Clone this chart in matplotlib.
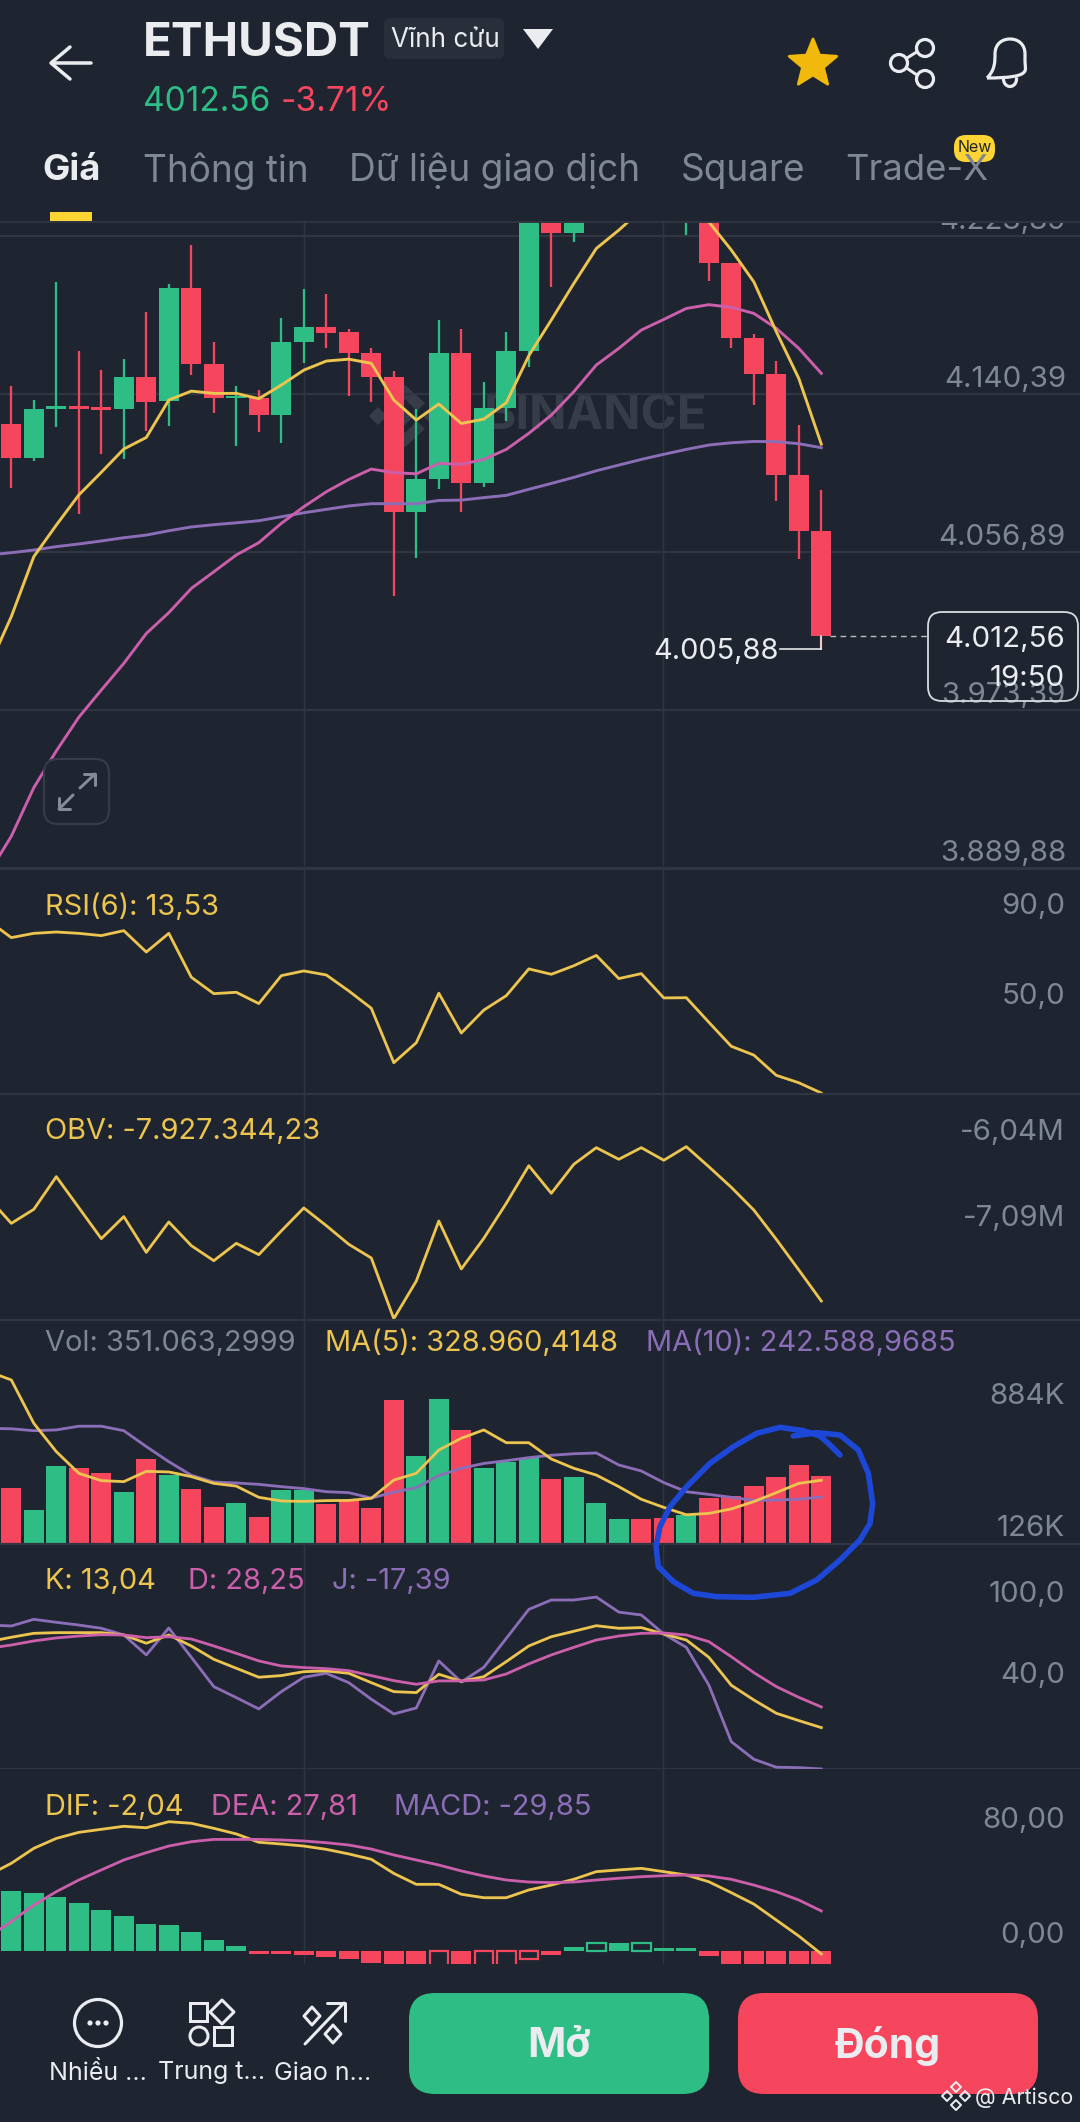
import numpy as np
import matplotlib
matplotlib.use("Agg")
import matplotlib.pyplot as plt
from matplotlib.patches import FancyBboxPatch, Polygon, Circle, PathPatch, Rectangle
from matplotlib.path import Path

# ---------- candles (index 0..36) ----------
candle_open = [4124.7, 4106.7, 4132.8, 4134.2, 4133.5, 4132.6, 4149.5, 4136.7, 4196.6, 4156.6,
               4138.3, 4138.3, 4129.6, 4168.2, 4176.0, 4173.1, 4162.0, 4149.4, 4078.0, 4095.6,
               4162.2, 4093.3, 4133.1, 4163.1, 4240.0, 4225.8, 4238.0, 4262.0, 4275.0, 4268.0,
               4240.0, 4245.0, 4209.6, 4170.0, 4150.9, 4097.6, 4068.1]
candle_close = [4106.7, 4132.6, 4134.2, 4132.8, 4132.1, 4149.5, 4136.5, 4196.6, 4156.6, 4138.3,
                4139.7, 4129.6, 4168.2, 4176.0, 4173.0, 4162.0, 4149.4, 4078.0, 4095.4, 4162.2,
                4093.5, 4133.0, 4163.1, 4240.0, 4225.8, 4238.0, 4262.0, 4275.0, 4268.0, 4245.0,
                4252.0, 4209.6, 4170.0, 4150.9, 4097.6, 4068.1, 4012.56]
candle_high = [4144.8, 4137.4, 4199.8, 4163.5, 4153.2, 4159.0, 4183.7, 4198.5, 4219.1, 4168.0,
               4144.8, 4142.7, 4180.9, 4196.2, 4193.4, 4174.9, 4164.9, 4152.5, 4132.4, 4179.7,
               4174.7, 4147.1, 4173.3, 4245.0, 4246.0, 4242.0, 4268.0, 4280.0, 4282.0, 4272.0,
               4258.0, 4250.0, 4210.0, 4172.3, 4158.0, 4124.2, 4089.8]
candle_low = [4091.0, 4105.3, 4122.9, 4077.1, 4108.7, 4106.2, 4121.2, 4123.6, 4150.6, 4130.3,
              4113.1, 4120.6, 4114.8, 4156.8, 4164.9, 4139.7, 4136.5, 4033.8, 4054.0, 4090.2,
              4078.4, 4091.6, 4126.3, 4154.6, 4196.9, 4220.9, 4234.0, 4256.0, 4260.0, 4240.0,
              4224.8, 4200.4, 4165.1, 4134.7, 4084.0, 4053.2, 4005.88]

# ---------- price moving averages (index -1..36) ----------
ma_fast = [3996.4, 4022.9, 4054.6, 4071.3, 4087.2, 4099.2, 4111.5, 4117.6, 4137.4, 4142.1,
           4140.9, 4140.9, 4138.1, 4145.3, 4153.2, 4158.0, 4159.0, 4156.8, 4137.4, 4126.8,
           4135.3, 4125.0, 4127.3, 4136.0, 4160.8, 4179.7, 4199.0, 4217.5, 4227.2, 4237.8,
           4245.7, 4243.1, 4231.6, 4216.7, 4199.9, 4173.5, 4148.8, 4114.1]
ma_mid = [3887.4, 3906.8, 3932.5, 3951.9, 3969.7, 3984.1, 3998.2, 4014.0, 4025.0, 4037.8,
          4046.6, 4055.5, 4062.0, 4072.2, 4081.0, 4088.9, 4095.4, 4100.9, 4099.0, 4098.4,
          4103.9, 4103.4, 4106.0, 4111.3, 4119.8, 4129.4, 4141.8, 4155.9, 4164.7, 4174.4,
          4180.0, 4185.8, 4187.8, 4186.4, 4183.2, 4175.3, 4164.7, 4151.5]
ma_slow = [4055.5, 4056.7, 4058.1, 4059.9, 4061.3, 4062.9, 4064.6, 4066.0, 4068.3, 4070.3,
           4071.5, 4072.5, 4073.6, 4075.7, 4077.8, 4079.6, 4081.4, 4082.6, 4082.6, 4082.6,
           4084.3, 4084.5, 4085.8, 4087.0, 4090.2, 4093.3, 4096.5, 4100.0, 4103.0, 4106.0,
           4108.7, 4111.3, 4113.6, 4114.8, 4115.5, 4115.4, 4114.3, 4112.2]

# ---------- indicators (index -1..36) ----------
rsi6 = [90.0, 82.6, 84.5, 85.1, 84.5, 83.5, 85.7, 76.2, 84.5, 65.0, 57.7, 58.3, 53.3, 65.7, 67.8,
        66.0, 58.9, 51.2, 27.0, 35.9, 57.9, 40.2, 50.4, 56.8, 68.7, 66.3, 70.1, 74.7, 64.4, 66.6,
        55.8, 55.9, 45.0, 34.3, 30.4, 21.4, 18.1, 13.53]
obv_m = [-6.672, -6.979, -6.808, -6.409, -6.787, -7.166, -6.897, -7.333, -6.962, -7.251, -7.435,
         -7.223, -7.361, -7.072, -6.791, -7.007, -7.235, -7.402, -8.143, -7.683, -6.950, -7.536,
         -7.162, -6.734, -6.275, -6.612, -6.258, -6.055, -6.197, -6.055, -6.209, -6.043, -6.287,
         -6.539, -6.816, -7.174, -7.548, -7.927]

# ---------- volume in thousands (bars index 0..36, averages index -1..36) ----------
volume_k = [290.8, 175.5, 401, 394, 368, 270, 437, 356, 284, 191, 212, 138, 281, 279, 207, 227,
            184, 743, 454, 747, 589, 392, 425, 442, 337, 344, 210, 131, 127, 134, 151, 239, 246,
            298, 348, 408, 351.063]
vol_ma5 = [889.8, 847, 623, 477, 365, 327, 322, 375, 372, 348, 313, 299, 241, 222, 220, 224, 225,
           236, 330, 365, 485, 546, 589, 523, 523, 439, 391, 356, 296, 231, 189, 151, 158, 181,
           219, 265, 313, 328.96]
vol_ma10 = [597, 595, 585, 589, 608, 608, 585, 503, 425, 355, 320, 315, 308, 296, 286, 270, 265,
            237, 268, 291, 353, 391, 416, 430, 446, 458, 466, 470, 408, 377, 317, 270, 256, 241,
            225, 227, 231, 242.589]

# ---------- KDJ (index -1..36) ----------
kdj_k = [76.3, 79.5, 82.4, 82.9, 82.9, 82.9, 81.2, 75.1, 81.2, 73.1, 63.3, 56.7, 50.1, 51.3, 54.2,
         54.7, 53.0, 46.1, 39.5, 38.8, 52.3, 47.1, 50.5, 61.6, 73.1, 79.9, 83.9, 88.0, 86.1, 86.6,
         81.9, 77.5, 64.8, 44.2, 33.4, 23.6, 18.2, 13.04]
kdj_d = [71.4, 73.8, 76.8, 79.0, 80.4, 81.4, 81.2, 79.2, 79.9, 78.2, 73.1, 67.7, 62.1, 58.4, 57.2,
         56.4, 54.9, 51.3, 47.6, 44.9, 47.4, 47.4, 48.1, 52.5, 59.9, 66.5, 72.1, 77.5, 80.4, 82.4,
         82.6, 81.2, 76.3, 65.2, 53.5, 43.2, 35.3, 28.25]
kdj_j = [88.5, 87.8, 92.7, 90.5, 88.5, 86.1, 81.2, 66.5, 86.3, 64.8, 43.2, 35.1, 26.8, 39.5, 50.1,
         53.0, 46.1, 33.9, 23.1, 27.5, 62.1, 46.6, 57.4, 78.7, 100.0, 106.9, 106.9, 109.1, 98.0,
         95.9, 81.9, 72.1, 44.4, 2.7, -10.2, -16.1, -16.4, -17.39]

# ---------- MACD (lines index -1..36, histogram index 0..36) ----------
macd_dif = [52.8, 60.9, 71.3, 78.2, 82.4, 84.5, 86.6, 85.6, 89.8, 88.7, 85.2, 81.3, 75.5, 74.3,
            72.9, 70.6, 67.4, 63.7, 53.9, 46.3, 46.3, 39.4, 37.0, 37.0, 42.4, 45.8, 49.8, 55.1,
            56.3, 57.4, 55.1, 52.8, 48.1, 40.5, 32.6, 21.5, 10.4, -2.04]
macd_dea = [10.0, 20.4, 31.9, 41.2, 49.3, 56.3, 63.2, 68.3, 72.9, 75.9, 77.5, 77.5, 77.5, 77.1,
            76.4, 75.2, 73.6, 70.8, 66.7, 63.2, 59.7, 55.6, 52.1, 49.3, 47.9, 47.5, 47.9, 49.3,
            50.5, 51.6, 52.3, 52.8, 52.1, 49.8, 45.8, 41.2, 35.4, 27.81]
macd_hist = [41.7, 40.5, 37.5, 33.3, 28.2, 24.3, 19.0, 18.1, 13.2, 7.6, 3.5, -2.0, -2.0, -2.8,
             -4.0, -5.8, -8.1, -12.8, -16.9, -13.4, -16.0, -15.0, -12.3, -5.8, -2.8, 3.0, 5.8,
             5.3, 5.8, 2.3, 1.8, -3.5, -11.6, -17.2, -24.3, -25.0, -29.85]
macd_hollow = [19, 21, 22, 23, 26, 28]

# ---------- axis labels ----------
price_ticks = [4223.89, 4140.39, 4056.89, 3973.39, 3889.88]
price_tick_labels = ["4.223,89", "4.140,39", "4.056,89", "3.973,39", "3.889,88"]
rsi_ticks, rsi_tick_labels = [90, 50], ["90,0", "50,0"]
obv_ticks, obv_tick_labels = [-6.04, -7.09], ["-6,04M", "-7,09M"]
vol_ticks, vol_tick_labels = [884, 126], ["884K", "126K"]
kdj_ticks, kdj_tick_labels = [100, 40], ["100,0", "40,0"]
macd_ticks, macd_tick_labels = [80, 0], ["80,00", "0,00"]
last_price = 4012.56
lowest_price = 4005.88

W, H = 1080, 2122
BG = "#1e2530"
GRID = "#2f3642"
GREEN = "#2ebd85"
RED = "#f6465d"
YELLOW = "#ecc44f"
PINK = "#cc5fac"
PURPLE = "#8c6eb8"
GREY = "#7f8794"
WHITE = "#eaecef"
FONT = ["Inter", "Noto Sans", "DejaVu Sans"]
plt.rcParams["font.family"] = FONT

PX = 0.72  # points per pixel at dpi 100
TICK_PX = 29.5
CAPTION_PX = 29
fig = plt.figure(figsize=(W / 100, H / 100), dpi=100, facecolor=BG)

candle_x = np.arange(37)
line_x = np.arange(-1, 37)
XLIM = (-11.3 / 22.5, (W - 11.3) / 22.5)


def panel(y0, y1, ylim):
    ax = fig.add_axes([0, 1 - y1 / H, 1, (y1 - y0) / H])
    ax.set_xlim(XLIM)
    ax.set_ylim(ylim)
    ax.set_facecolor("none")
    ax.axis("off")
    for x in [(303.5 - 11.3) / 22.5, (663.3 - 11.3) / 22.5]:
        ax.axvline(x, color=GRID, lw=1.0, zorder=0)
    return ax


def edge_line(ax):
    ax.axhline(ax.get_ylim()[1], color=GRID, lw=1.6, clip_on=False, zorder=0)


def tick_text(ax, value, label, dy=-14):
    ax.annotate(label, xy=(1, value), xycoords=ax.get_yaxis_transform(),
                xytext=(-15 * PX, -dy * PX), textcoords="offset points",
                ha="right", va="center", color=GREY, fontsize=TICK_PX * PX,
                annotation_clip=False, clip_on=True, zorder=1)


def plot_lines(ax, *pairs, lw=2.8):
    for values, color in pairs:
        ax.plot(line_x, values, color=color, lw=lw * PX, solid_joinstyle="round", zorder=4)


# ----- price panel -----
main = panel(222, 869, (3889.5, 4231.5))
for value, label in zip(price_ticks, price_tick_labels):
    main.axhline(value, color=GRID, lw=1.6, zorder=0)
    t = main.annotate(label, xy=(1, value), xycoords=main.get_yaxis_transform(),
                      xytext=(-14 * PX, 14.5 * PX), textcoords="offset points",
                      ha="right", va="center", color=GREY, fontsize=TICK_PX * PX, zorder=1)
    t.set_clip_on(True)
    t.set_clip_box(main.bbox)

# watermark sits under the candles
wm = "#363d48"
fig_px = fig.add_axes([0, 0, 1, 1], zorder=-1)
fig_px.set_xlim(0, W)
fig_px.set_ylim(H, 0)
fig_px.axis("off")
fig_px.text(707, 416, "BINANCE", ha="right", va="center", fontsize=49 * PX, color=wm, weight="bold")
for pts in ([(405, 385), (425, 403), (417, 411), (405, 399), (393, 411), (385, 403)],
            [(405, 447), (425, 429), (417, 421), (405, 433), (393, 421), (385, 429)],
            [(378, 407), (387, 416), (378, 425), (369, 416)],
            [(432, 407), (441, 416), (432, 425), (423, 416)],
            [(405, 407), (414, 416), (405, 425), (396, 416)]):
    fig_px.add_patch(Polygon(pts, closed=True, color=wm, lw=0))

for i in candle_x:
    o, c, h, l = candle_open[i], candle_close[i], candle_high[i], candle_low[i]
    col = GREEN if c >= o else RED
    main.vlines(i, l, h, color=col, lw=2.3 * PX, zorder=2)
    main.bar(i, abs(c - o), bottom=min(o, c), width=0.885, color=col, lw=0, zorder=3)
plot_lines(main, (ma_slow, PURPLE), (ma_mid, PINK), (ma_fast, YELLOW), lw=2.9)

# lowest-price leader and last-price dashes
main.plot([(780 - 11.3) / 22.5, 36], [lowest_price, lowest_price], color=WHITE, lw=1.6 * PX, zorder=5)
main.plot([36, 36], [lowest_price, last_price], color="#e8c9cf", lw=2.0 * PX, zorder=3)
main.plot([36.4, (927 - 11.3) / 22.5], [last_price, last_price], color="#b8bcc4", lw=1.4 * PX,
          ls=(0, (4, 3.2)), zorder=5)

# ----- RSI panel -----
rsi_ax = panel(869, 1094, (13.1, 113.1))
edge_line(rsi_ax)
for v, s in zip(rsi_ticks, rsi_tick_labels):
    tick_text(rsi_ax, v, s)
plot_lines(rsi_ax, (rsi6, YELLOW))

# ----- OBV panel -----
obv_ax = panel(1094, 1320, (-8.159, -5.40))
edge_line(obv_ax)
for v, s in zip(obv_ticks, obv_tick_labels):
    tick_text(obv_ax, v, s)
plot_lines(obv_ax, (obv_m, YELLOW))

# ----- volume panel -----
vol_ax = panel(1320, 1544, (0, 1156.5))
edge_line(vol_ax)
vol_ax.axhline(0, color=GRID, lw=1.6, zorder=0)
for v, s, dy in zip(vol_ticks, vol_tick_labels, [24, 9]):
    tick_text(vol_ax, v, s, dy=dy)
vol_colors = [GREEN if c >= o else RED for o, c in zip(candle_open, candle_close)]
vol_ax.bar(candle_x, volume_k, width=0.885, color=vol_colors, lw=0, zorder=2)
plot_lines(vol_ax, (vol_ma10, PURPLE), (vol_ma5, YELLOW))

# ----- KDJ panel -----
kdj_ax = panel(1544, 1769, (-17.4, 148.1))
edge_line(kdj_ax)
kdj_ax.axhline(-17.4, color=GRID, lw=1.6, zorder=0)
for v, s in zip(kdj_ticks, kdj_tick_labels):
    tick_text(kdj_ax, v, s, dy=-15)
plot_lines(kdj_ax, (kdj_j, PURPLE), (kdj_k, YELLOW), (kdj_d, PINK))

# ----- MACD panel, its lower part runs under the toolbar -----
macd_ax = panel(1769, 1964, (-9.03, 126.4))
for v, s in zip(macd_ticks, macd_tick_labels):
    tick_text(macd_ax, v, s, dy=-15)
for i, v in zip(candle_x, macd_hist):
    col = GREEN if v >= 0 else RED
    if i in macd_hollow:
        macd_ax.bar(i, v, width=0.82, fill=False, edgecolor=col, lw=2.2 * PX, zorder=2)
    else:
        macd_ax.bar(i, v, width=0.885, color=col, lw=0, zorder=2)
plot_lines(macd_ax, (macd_dif, YELLOW), (macd_dea, PINK))

# ----- screen furniture in pixel coordinates -----
ui = fig.add_axes([0, 0, 1, 1], zorder=10)
ui.set_xlim(0, W)
ui.set_ylim(H, 0)
ui.set_facecolor("none")
ui.axis("off")


def T(x, y, s, px, color, ha="left", va="center", weight="normal"):
    return ui.text(x, y, s, fontsize=px * PX, color=color, ha=ha, va=va, weight=weight)


def stroke(pts, color=WHITE, lw=3.0, **kw):
    xs, ys = zip(*pts)
    ui.plot(xs, ys, color=color, lw=lw * PX, solid_capstyle="round", solid_joinstyle="round", **kw)


def outline(pts, color=WHITE, lw=3.0):
    ui.add_patch(Polygon(pts, closed=True, fill=False, edgecolor=color, lw=lw * PX, joinstyle="round"))


def round_box(x0, y0, x1, y1, r, fc, ec="none", lw=0):
    ui.add_patch(FancyBboxPatch((x0 + r, y0 + r), x1 - x0 - 2 * r, y1 - y0 - 2 * r,
                                boxstyle=f"round,pad={r},rounding_size={r}",
                                fc=fc, ec=ec, lw=lw * PX))


# header
stroke([(91, 63), (52, 63)], lw=3.5)
stroke([(70, 47), (51, 63), (70, 79)], lw=3.5)
T(143, 43, "ETHUSDT", 47.5, WHITE, weight="bold")
round_box(384, 18, 504, 59, 7, "#282f3b")
T(391, 40, "Vĩnh cửu", 26, WHITE)
ui.add_patch(Polygon([(523, 29), (553, 29), (538, 49)], closed=True, color=WHITE, lw=0, joinstyle="round"))
T(143, 102, "4012.56", 33.5, GREEN)
T(281, 102, "-3.71%", 33.5, RED)

# star
star_r = [25, 11] * 5
star_a = np.deg2rad(np.arange(10) * 36 - 90)
star_pts = [(813 + r * np.cos(a), 64 + r * np.sin(a)) for r, a in zip(star_r, star_a)]
ui.add_patch(Polygon(star_pts, closed=True, fc="#f0b90b", ec="#f0b90b", lw=2, joinstyle="round"))

# share
stroke([(899, 63), (923, 48)], lw=3)
stroke([(899, 63), (923, 79)], lw=3)
for cx, cy in [(925, 48), (925, 79), (899, 63)]:
    ui.add_patch(Circle((cx, cy), 8.5, fc=BG, ec=WHITE, lw=3.2 * PX, zorder=5))

# bell
bell = Path([(987, 78), (995, 70), (995, 62), (995, 54), (995, 44), (1002, 39), (1010, 39),
             (1018, 39), (1025, 44), (1025, 54), (1025, 62), (1025, 70), (1033, 78), (987, 78)],
            [Path.MOVETO, Path.CURVE4, Path.CURVE4, Path.LINETO, Path.CURVE4, Path.CURVE4, Path.CURVE4,
             Path.CURVE4, Path.CURVE4, Path.CURVE4, Path.LINETO, Path.CURVE4, Path.CURVE4, Path.CLOSEPOLY])
ui.add_patch(PathPatch(bell, fill=False, ec=WHITE, lw=3.2 * PX, joinstyle="round"))
clapper = np.linspace(0, np.pi, 20)
ui.plot(1010 + 6.5 * np.cos(clapper), 79 + 7.5 * np.sin(clapper), color=WHITE, lw=3.2 * PX)

# tabs
T(42, 171, "Giá", 36.5, WHITE, weight="bold")
T(143, 171, "Thông tin", 37, GREY)
T(349, 171, "Dữ liệu giao dịch", 37, GREY)
T(681, 171, "Square", 37, GREY)
T(845, 171, "Trade-X", 36.5, GREY)
round_box(954, 135, 995, 162, 12, "#fcd535")
T(974.5, 148, "New", 16, "#1e2530", ha="center")
ui.add_patch(Rectangle((50, 212), 42, 9, color="#fcd535", lw=0))
ui.plot([0, W], [221.5, 221.5], color=GRID, lw=1.4)

# panel captions
T(45, 907, "RSI(6): 13,53", CAPTION_PX, YELLOW)
T(45, 1132, "OBV: -7.927.344,23", CAPTION_PX, YELLOW)
T(45, 1343, "Vol: 351.063,2999", CAPTION_PX, GREY)
T(325, 1343, "MA(5): 328.960,4148", CAPTION_PX, YELLOW)
T(646, 1343, "MA(10): 242.588,9685", CAPTION_PX, PURPLE)
T(45, 1582, "K: 13,04", CAPTION_PX, YELLOW)
T(188, 1582, "D: 28,25", CAPTION_PX, PINK)
T(332, 1582, "J: -17,39", CAPTION_PX, PURPLE)
T(45, 1807, "DIF: -2,04", CAPTION_PX, YELLOW)
T(211, 1807, "DEA: 27,81", CAPTION_PX, PINK)
T(394, 1807, "MACD: -29,85", CAPTION_PX, PURPLE)

# price flags
T(779, 652, "4.005,88", 29, WHITE, ha="right")
round_box(928, 612, 1078, 701, 14, "none", ec="#d8dbe0", lw=1.8)
T(1065, 640, "4.012,56", TICK_PX, WHITE, ha="right")
T(1065, 679, "19:50", TICK_PX, WHITE, ha="right")

# expand button
round_box(44, 759, 109, 824, 14, BG, ec="#363c47", lw=2.2)
arrow = "#858b96"
stroke([(59, 809), (73, 795)], color=arrow, lw=3)
stroke([(59, 798), (59, 809), (70, 809)], color=arrow, lw=3)
stroke([(80, 788), (95, 774)], color=arrow, lw=3)
stroke([(84, 774), (95, 774), (95, 785)], color=arrow, lw=3)

# hand-drawn ring around the latest volume bars
ring = np.array([(1180, 378), (1250, 368), (1320, 375), (1375, 420), (1405, 490), (1418, 580),
                 (1410, 640), (1380, 690), (1320, 750), (1250, 810), (1170, 850), (1060, 862),
                 (950, 860), (880, 850), (820, 815), (775, 770), (768, 710), (780, 650), (810, 590),
                 (860, 530), (930, 460), (1000, 410), (1070, 370), (1140, 352), (1210, 362),
                 (1260, 378), (1290, 405), (1320, 435)], dtype=float)
ui.plot(400 + ring[:, 0] / 3, 1310 + ring[:, 1] / 3, color="#1d47d6", lw=5.6 * PX,
        solid_capstyle="round", solid_joinstyle="round")

# toolbar
ui.add_patch(Circle((98, 2023), 23.5, fill=False, ec=WHITE, lw=3.2 * PX))
for dx in (-8, 0, 8):
    ui.add_patch(Circle((98 + dx, 2023), 2.6, color=WHITE, lw=0))
T(98, 2073, "Nhiều ...", 25, WHITE, ha="center")

ui.add_patch(Rectangle((190, 2003), 17, 18, fill=False, ec=WHITE, lw=3 * PX))
outline([(222, 2000), (234, 2012), (222, 2024), (210, 2012)])
ui.add_patch(Circle((199, 2036), 9, fill=False, ec=WHITE, lw=3 * PX))
ui.add_patch(Rectangle((214, 2027), 18, 18, fill=False, ec=WHITE, lw=3 * PX))
T(212, 2073, "Trung t...", 25, WHITE, ha="center")

outline([(312, 2007), (320, 2016), (312, 2025), (304, 2016)])
outline([(333, 2025), (341, 2034), (333, 2043), (325, 2034)])
stroke([(305, 2044), (344, 2003)])
stroke([(327, 2003), (345, 2003), (345, 2021)])
T(323, 2073, "Giao n...", 25, WHITE, ha="center")

round_box(409, 1993, 709, 2094, 26, GREEN)
T(559, 2046, "Mở", 41, WHITE, ha="center", weight="bold")
round_box(738, 1993, 1038, 2094, 26, RED)
T(888, 2046, "Đóng", 41, WHITE, ha="center", weight="bold")

# attribution mark
for cx, cy, r in [(956, 2087, 5), (947, 2096, 5), (965, 2096, 5), (956, 2105, 5)]:
    outline([(cx, cy - r), (cx + r, cy), (cx, cy + r), (cx - r, cy)], lw=2)
T(975, 2098, "@ Artisco", 21.5, WHITE)

fig.savefig("out.png", dpi=100, facecolor=BG)
